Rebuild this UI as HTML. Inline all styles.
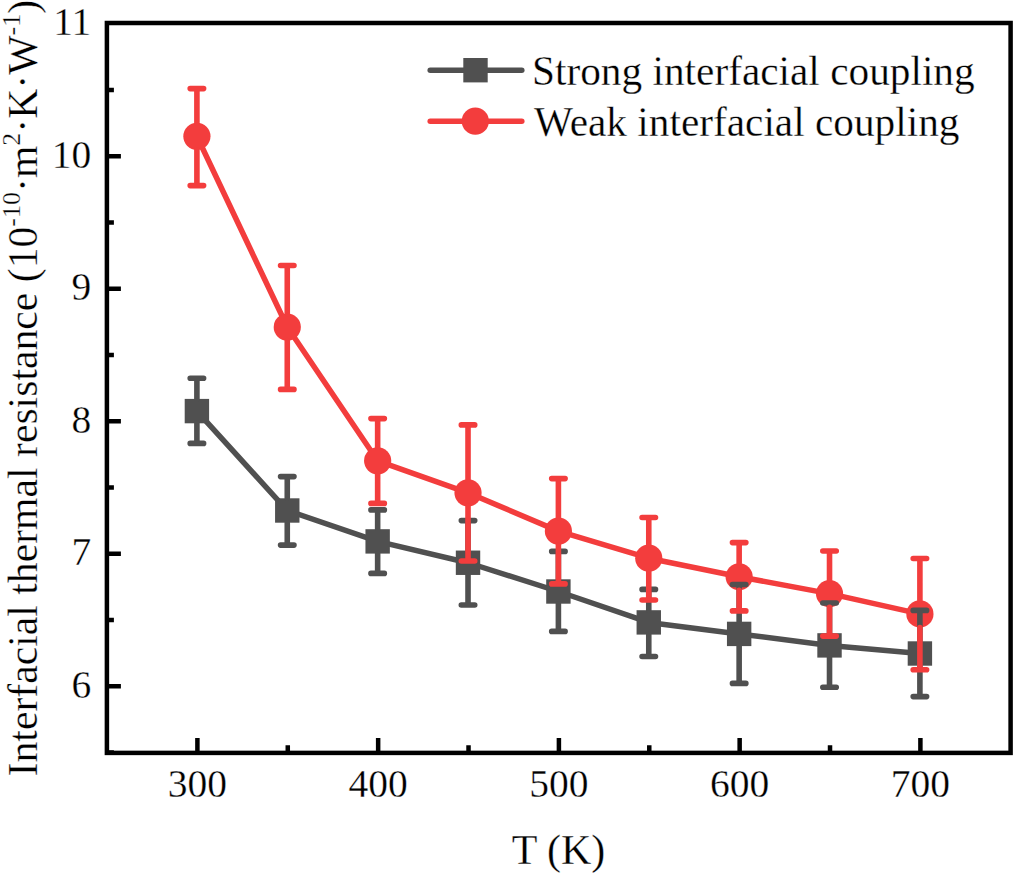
<!DOCTYPE html>
<html><head><meta charset="utf-8">
<style>
html,body{margin:0;padding:0;background:#fff;width:1014px;height:873px;overflow:hidden}
svg{position:absolute;left:0;top:0}
text{font-family:"Liberation Serif",serif;fill:#000;stroke:#fff;stroke-width:0.3px}
</style></head><body>
<svg width="1014" height="873" viewBox="0 0 1014 873">
<rect x="106.9" y="23.0" width="903.7" height="729.9" fill="none" stroke="#000" stroke-width="4.5" stroke-linejoin="miter"/>
<path d="M197.40 752.9V737.90M378.15 752.9V737.90M558.90 752.9V737.90M739.65 752.9V737.90M920.40 752.9V737.90M287.77 752.9V745.30M468.52 752.9V745.30M649.27 752.9V745.30M830.02 752.9V745.30M106.9 686.15H120.90M106.9 553.65H120.90M106.9 421.15H120.90M106.9 288.65H120.90M106.9 156.15H120.90M106.9 752.40H113.90M106.9 619.90H113.90M106.9 487.40H113.90M106.9 354.90H113.90M106.9 222.40H113.90M106.9 89.90H113.90" stroke="#000" stroke-width="4.5" fill="none"/>
<polyline points="196.90,411.10 287.27,510.50 377.65,541.40 468.02,562.75 558.40,591.50 648.77,622.40 739.15,633.90 829.52,645.40 919.90,653.50" fill="none" stroke="#505050" stroke-width="5.5" stroke-linejoin="round" stroke-linecap="round"/>
<rect x="184.70" y="398.90" width="24.4" height="24.4" fill="#505050"/><rect x="275.07" y="498.30" width="24.4" height="24.4" fill="#505050"/><rect x="365.45" y="529.20" width="24.4" height="24.4" fill="#505050"/><rect x="455.82" y="550.55" width="24.4" height="24.4" fill="#505050"/><rect x="546.20" y="579.30" width="24.4" height="24.4" fill="#505050"/><rect x="636.57" y="610.20" width="24.4" height="24.4" fill="#505050"/><rect x="726.95" y="621.70" width="24.4" height="24.4" fill="#505050"/><rect x="817.32" y="633.20" width="24.4" height="24.4" fill="#505050"/><rect x="907.70" y="641.30" width="24.4" height="24.4" fill="#505050"/>
<polyline points="196.90,136.30 287.27,327.05 377.65,460.80 468.02,492.80 558.40,531.10 648.77,558.20 739.15,576.75 829.52,593.60 919.90,613.90" fill="none" stroke="#f33d3d" stroke-width="5.5" stroke-linejoin="round" stroke-linecap="round"/>
<circle cx="196.90" cy="136.30" r="13.6" fill="#f33d3d"/><circle cx="287.27" cy="327.05" r="13.6" fill="#f33d3d"/><circle cx="377.65" cy="460.80" r="13.6" fill="#f33d3d"/><circle cx="468.02" cy="492.80" r="13.6" fill="#f33d3d"/><circle cx="558.40" cy="531.10" r="13.6" fill="#f33d3d"/><circle cx="648.77" cy="558.20" r="13.6" fill="#f33d3d"/><circle cx="739.15" cy="576.75" r="13.6" fill="#f33d3d"/><circle cx="829.52" cy="593.60" r="13.6" fill="#f33d3d"/><circle cx="919.90" cy="613.90" r="13.6" fill="#f33d3d"/>
<path d="M196.90 398.90V378.20M190.20 378.20H203.60M196.90 423.30V443.40M190.20 443.40H203.60M287.27 498.30V476.60M280.57 476.60H293.97M287.27 522.70V545.10M280.57 545.10H293.97M377.65 529.20V509.90M370.95 509.90H384.35M377.65 553.60V573.40M370.95 573.40H384.35M468.02 550.55V520.60M461.32 520.60H474.72M468.02 574.95V605.00M461.32 605.00H474.72M558.40 579.30V551.40M551.70 551.40H565.10M558.40 603.70V631.40M551.70 631.40H565.10M648.77 610.20V589.40M642.07 589.40H655.48M648.77 634.60V656.50M642.07 656.50H655.48M739.15 621.70V584.50M732.45 584.50H745.85M739.15 646.10V683.40M732.45 683.40H745.85M829.52 633.20V603.00M822.82 603.00H836.23M829.52 657.60V687.20M822.82 687.20H836.23M919.90 641.30V610.40M913.20 610.40H926.60M919.90 665.70V696.60M913.20 696.60H926.60" stroke="#505050" stroke-width="5.6" stroke-linecap="round" fill="none"/>
<path d="M196.90 122.70V88.60M190.20 88.60H203.60M196.90 149.90V185.60M190.20 185.60H203.60M287.27 313.45V265.50M280.57 265.50H293.97M287.27 340.65V389.40M280.57 389.40H293.97M377.65 447.20V418.60M370.95 418.60H384.35M377.65 474.40V503.40M370.95 503.40H384.35M468.02 479.20V424.90M461.32 424.90H474.72M468.02 506.40V561.00M461.32 561.00H474.72M558.40 517.50V478.60M551.70 478.60H565.10M558.40 544.70V583.90M551.70 583.90H565.10M648.77 544.60V517.50M642.07 517.50H655.48M648.77 571.80V600.00M642.07 600.00H655.48M739.15 563.15V542.60M732.45 542.60H745.85M739.15 590.35V610.90M732.45 610.90H745.85M829.52 580.00V551.00M822.82 551.00H836.23M829.52 607.20V636.10M822.82 636.10H836.23M919.90 600.30V558.50M913.20 558.50H926.60M919.90 627.50V669.80M913.20 669.80H926.60" stroke="#f33d3d" stroke-width="5.6" stroke-linecap="round" fill="none"/>
<path d="M430.2 70.2H521.8" stroke="#505050" stroke-width="5.5" stroke-linecap="round"/>
<rect x="463.3" y="58.0" width="24.4" height="24.4" fill="#505050"/>
<path d="M430.2 121.2H521.8" stroke="#f33d3d" stroke-width="5.5" stroke-linecap="round"/>
<circle cx="475.3" cy="121.2" r="13.6" fill="#f33d3d"/>
<g font-size="39.5" text-anchor="middle">
<text x="197.40" y="797.4">300</text><text x="378.15" y="797.4">400</text><text x="558.90" y="797.4">500</text><text x="739.65" y="797.4">600</text><text x="920.40" y="797.4">700</text><text x="91.2" y="697.80" text-anchor="end">6</text><text x="91.2" y="565.30" text-anchor="end">7</text><text x="91.2" y="432.80" text-anchor="end">8</text><text x="91.2" y="300.30" text-anchor="end">9</text><text x="91.2" y="167.80" text-anchor="end">10</text><text x="91.2" y="35.30" text-anchor="end">11</text></g>
<text x="558.5" y="863.5" font-size="42" text-anchor="middle">T (K)</text>
<g font-size="41.3"><text x="532" y="85.2">Strong interfacial coupling</text><text x="534" y="135.9">Weak interfacial coupling</text></g>
<text transform="translate(37.2,776.4) rotate(-90)" font-size="41.7">Interfacial thermal resistance (10<tspan font-size="26" dy="-17">-10</tspan><tspan dy="17">·m</tspan><tspan font-size="26" dy="-17">2</tspan><tspan dy="17">·K·W</tspan><tspan font-size="26" dy="-17">-1</tspan><tspan dy="17">)</tspan></text>
</svg>
</body></html>
